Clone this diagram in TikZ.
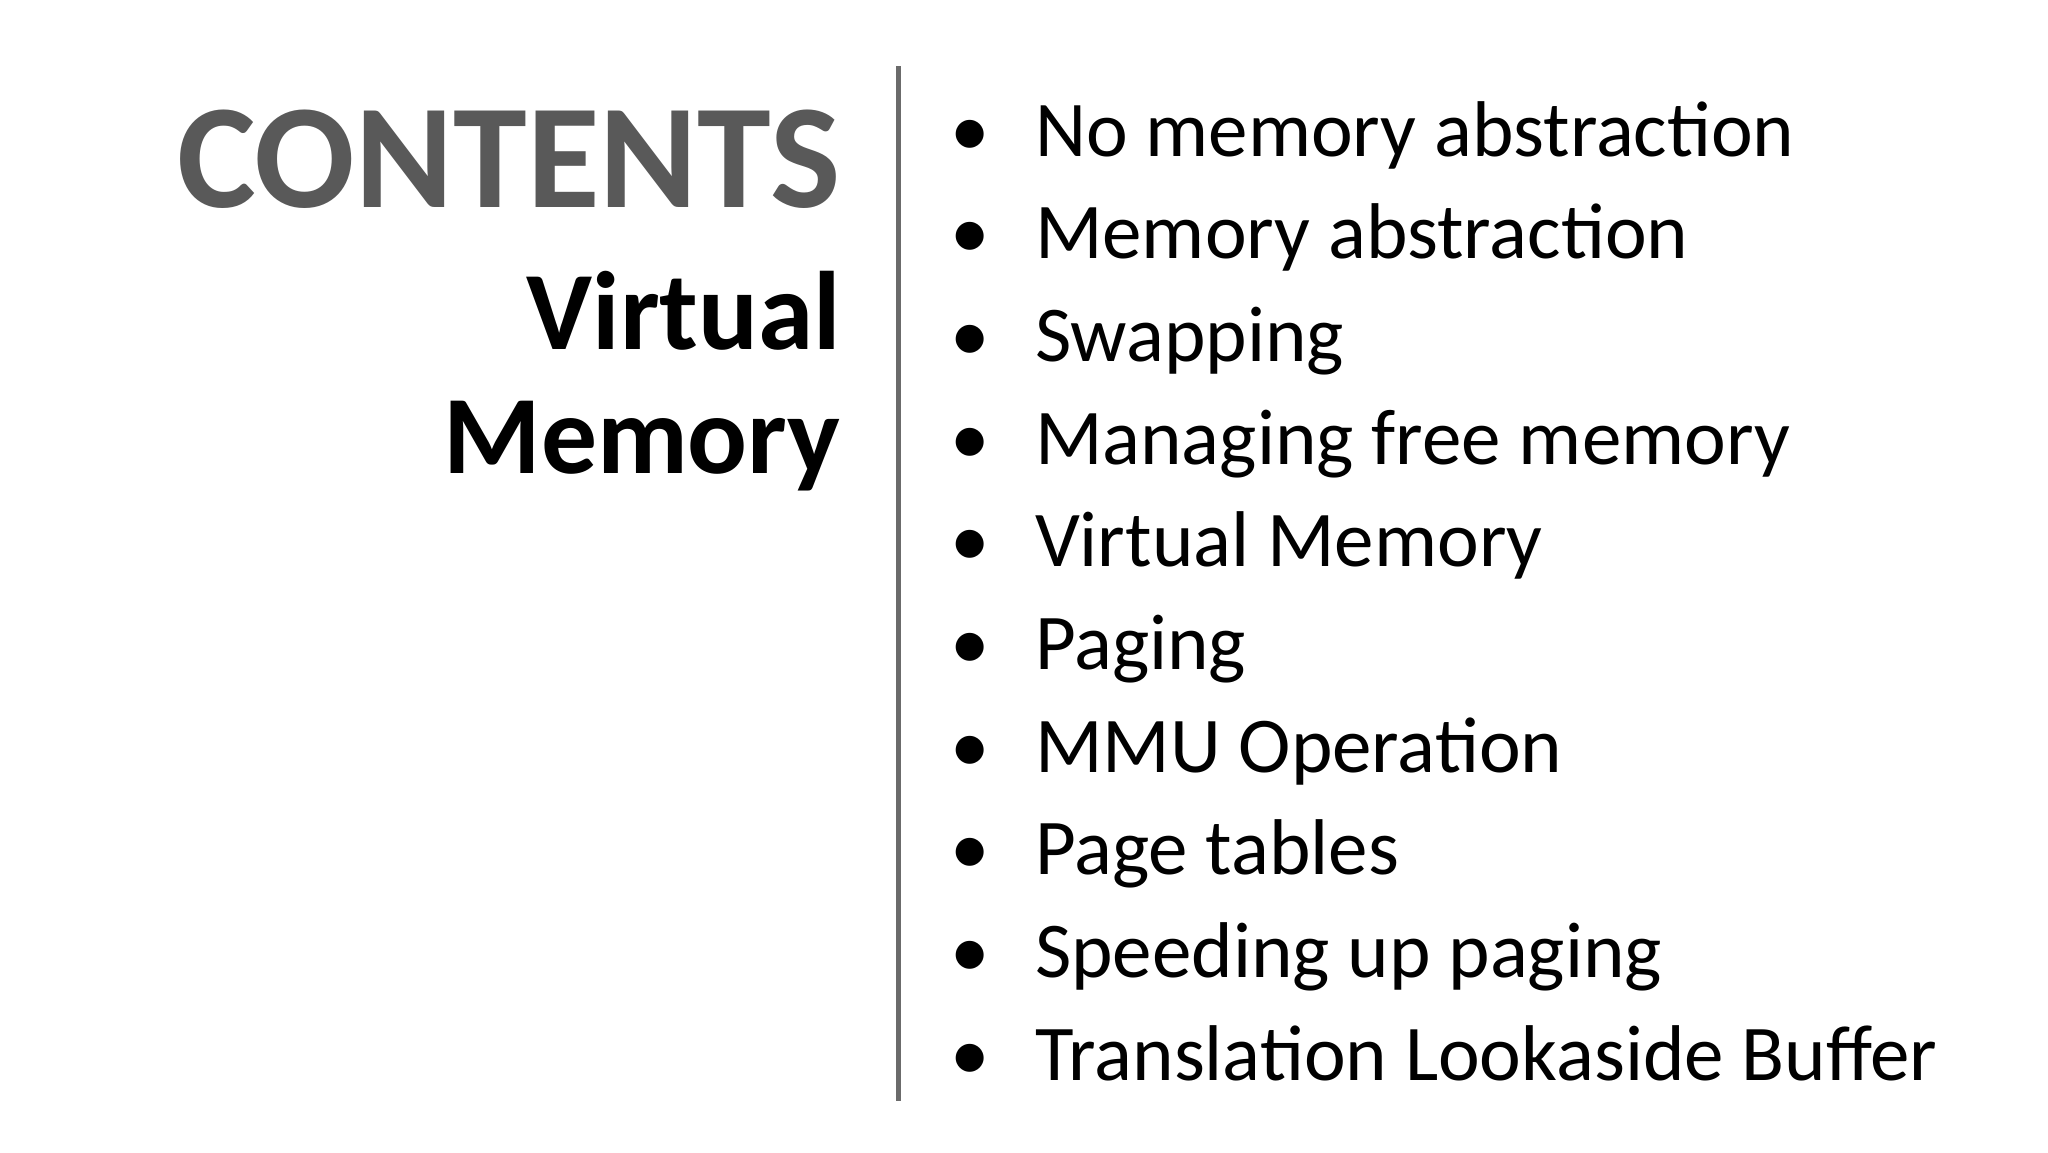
\documentclass[tikz,border=0pt]{standalone}
\usepackage{fontspec}
\setmainfont{Carlito}
\definecolor{titlegray}{HTML}{595959}
\definecolor{rulegray}{HTML}{6B6B6B}
\begin{document}
\begin{tikzpicture}[x=0.02cm,y=-0.02cm,
  item/.style={anchor=base west,inner sep=0pt,font=\fontsize{34}{40}\selectfont},
  dot/.style={anchor=base,inner sep=0pt,font=\fontsize{34}{40}\selectfont}]
\useasboundingbox (0,0) rectangle (1548,871);
\node[anchor=base east,inner sep=0pt,text=titlegray,font=\bfseries\fontsize{64}{70}\selectfont] (title) at (636,157) {CONTENTS};
\node[anchor=base east,inner sep=0pt,font=\bfseries\fontsize{48}{56}\selectfont] (v1) at (636,264) {Virtual};
\node[anchor=base east,inner sep=0pt,font=\bfseries\fontsize{48}{56}\selectfont] (v2) at (636,358) {Memory};
\coordinate (ltop) at (679,50);
\coordinate (lbot) at (679,832);
\draw[rulegray,line width=0.08cm] (ltop) -- (lbot);
\foreach \t [count=\i from 0] in {No memory abstraction,Memory abstraction,Swapping,Managing free memory,Virtual Memory,Paging,MMU Operation,Page tables,Speeding up paging,Translation Lookaside Buffer}{
  \node[dot] (b\i) at (733,{118+77.6*\i}) {•};
  \node[item] (t\i) at (782,{118+77.6*\i}) {\t};
}
\end{tikzpicture}
\end{document}
